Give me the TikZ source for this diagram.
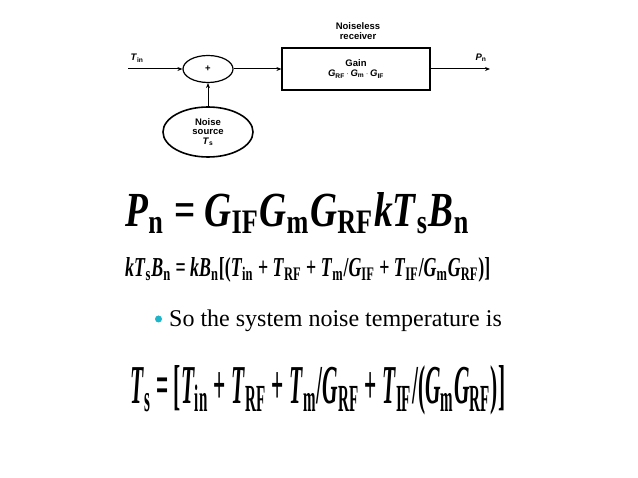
\documentclass[tikz,border=0pt]{standalone}
\usepackage{fontspec}
\setmainfont{Liberation Serif}
\setsansfont{Liberation Sans}
\usetikzlibrary{shapes.geometric,arrows.meta}
\newcommand{\vsub}[2]{\textit{#1}\textsubscript{#2}}
\newcommand{\es}[2]{\textit{#1}\textsubscript{\textbf{#2}}}
\tikzset{
  lab/.style={font=\sffamily\bfseries\fontsize{9.5}{9.5}\selectfont, align=center, inner sep=0pt},
  conn/.style={draw, line width=1pt, -{Stealth[length=5pt,width=4pt]}},
  eq/.style={inner sep=0pt, anchor=west, font=\bfseries}
}
\begin{document}
\begin{tikzpicture}[x=1pt,y=-1pt]
\useasboundingbox (0,0) rectangle (638,478);
\node[draw, line width=1.2pt, ellipse, minimum width=50pt, minimum height=27pt, lab] (sum) at (208,69) {+};
\node[draw, line width=1.2pt, minimum width=148pt, minimum height=42pt, lab] (box) at (356,69) {Gain\\[1pt]\vsub{G}{RF}\,$\cdot$\,\vsub{G}{m}\,$\cdot$\,\vsub{G}{IF}};
\node[draw, line width=1.6pt, ellipse, minimum width=90pt, minimum height=50pt, lab] (src) at (208,132) {Noise\\source\\\vsub{T}{s}};
\coordinate (in) at (128,69);
\coordinate (out) at (490,69);
\node[lab] (tin) at (137,58) {\vsub{T}{in}};
\node[lab] (pn) at (481,58) {\vsub{P}{n}};
\node[lab] (nr) at (358,31) {Noiseless\\receiver};
\draw[conn] (in) -- (sum);
\draw[conn] (sum) -- (box);
\draw[conn] (box) -- (out);
\draw[conn] (src) -- (sum);
\node[eq] (e1) at (125,213) {\resizebox{345pt}{34pt}{\es{P}{n} = \es{G}{IF}\es{G}{m}\es{G}{RF}\textit{k}\es{T}{s}\es{B}{n}}};
\node[eq] (e2) at (125,270) {\resizebox{365pt}{19pt}{\textit{k}\es{T}{s}\es{B}{n} = \textit{k}\es{B}{n}[(\es{T}{in} + \es{T}{RF} + \es{T}{m}/\es{G}{IF} + \es{T}{IF}/\es{G}{m}\es{G}{RF})]}};
\fill[color={rgb,255:red,31;green,181;blue,200}] (158.5,319) circle (3.5) coordinate (bul);
\node[eq, font=\mdseries, fontsize/.style={}] (b) at (169,321) {\fontsize{24}{26}\selectfont So the system noise temperature is};
\node[eq] (e3) at (130,390) {\resizebox{375pt}{38pt}{\es{T}{s} = [\es{T}{in} + \es{T}{RF} + \es{T}{m}/\es{G}{RF} + \es{T}{IF}/(\es{G}{m}\es{G}{RF})]}};
\end{tikzpicture}
\end{document}
